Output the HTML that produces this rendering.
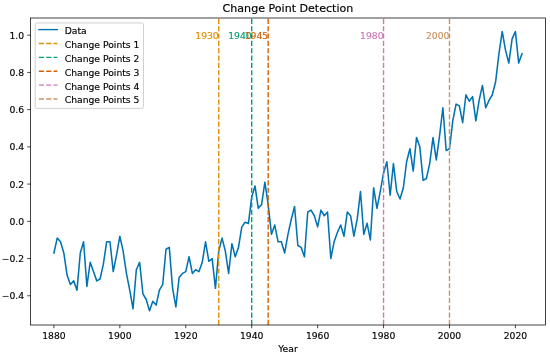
<!DOCTYPE html>
<html><head><meta charset="utf-8"><title>Change Point Detection</title>
<style>html,body{margin:0;padding:0;background:#fff;width:550px;height:357px;overflow:hidden}svg{display:block;filter:blur(0.35px)}text{stroke-width:0.15px}</style>
</head><body>
<svg width="550" height="357" viewBox="0 0 550 357">
<rect width="550" height="357" fill="#fff"/>
<polyline points="53.92,252.96 57.22,238.07 60.51,241.80 63.81,252.96 67.11,275.30 70.40,284.61 73.70,280.88 76.99,290.19 80.29,252.96 83.59,241.80 86.88,286.47 90.18,262.27 93.48,271.58 96.77,280.88 100.07,279.02 103.36,264.13 106.66,241.80 109.96,241.80 113.25,271.58 116.55,254.83 119.85,236.21 123.14,251.10 126.44,273.44 129.73,290.19 133.03,308.81 136.33,269.72 139.62,262.27 142.92,293.91 146.22,299.50 149.51,310.67 152.81,301.36 156.11,305.08 159.40,290.19 162.70,284.61 165.99,249.24 169.29,247.38 172.59,288.33 175.88,306.94 179.18,277.16 182.48,273.44 185.77,271.58 189.07,256.69 192.36,273.44 195.66,269.72 198.96,271.58 202.25,262.27 205.55,241.80 208.85,261.34 212.14,258.55 215.44,288.33 218.74,251.10 222.03,238.07 225.33,251.10 228.62,273.44 231.92,243.66 235.22,256.69 238.51,247.38 241.81,226.90 245.11,222.25 248.40,223.55 251.70,197.12 254.99,185.95 258.29,208.29 261.59,204.57 264.88,182.23 268.18,204.57 271.48,234.35 274.77,225.04 278.07,241.80 281.36,241.80 284.66,252.96 287.96,234.35 291.25,219.46 294.55,206.43 297.85,245.52 301.14,247.38 304.44,256.69 307.74,212.01 311.03,210.15 314.33,215.74 317.62,226.90 320.92,210.15 324.22,215.74 327.51,212.01 330.81,258.55 334.11,241.80 337.40,232.49 340.70,225.04 343.99,236.21 347.29,212.01 350.59,215.74 353.88,236.21 357.18,219.46 360.48,191.54 363.77,234.35 367.07,223.18 370.36,239.93 373.66,187.81 376.96,208.29 380.25,191.54 383.55,172.92 386.85,161.76 390.14,195.26 393.44,163.62 396.74,191.54 400.03,198.98 403.33,187.81 406.62,161.76 409.92,148.73 413.22,171.06 416.51,137.56 419.81,146.86 423.11,180.37 426.40,178.51 429.70,163.62 432.99,137.56 436.29,159.89 439.59,135.70 442.88,107.77 446.18,150.59 449.48,148.73 452.77,120.80 456.07,104.05 459.36,105.91 462.66,122.67 465.96,94.74 469.25,101.26 472.55,96.61 475.85,120.80 479.14,100.33 482.44,85.44 485.74,107.77 489.03,100.33 492.33,94.74 495.62,81.72 498.92,53.79 502.22,31.46 505.51,50.07 508.81,63.10 512.11,38.90 515.40,31.46 518.70,63.10 521.99,53.79" fill="none" stroke="#0173B2" stroke-width="1.55" stroke-linejoin="round" stroke-linecap="square"/>
<line x1="218.74" y1="325.0" x2="218.74" y2="18.0" stroke="#DE8F05" stroke-width="1.385" stroke-dasharray="5.126 2.217"/>
<line x1="251.70" y1="325.0" x2="251.70" y2="18.0" stroke="#029E73" stroke-width="1.385" stroke-dasharray="5.126 2.217"/>
<line x1="268.18" y1="325.0" x2="268.18" y2="18.0" stroke="#D55E00" stroke-width="1.385" stroke-dasharray="5.126 2.217"/>
<line x1="383.55" y1="325.0" x2="383.55" y2="18.0" stroke="#CC78BC" stroke-width="1.385" stroke-dasharray="5.126 2.217"/>
<line x1="449.48" y1="325.0" x2="449.48" y2="18.0" stroke="#CA9161" stroke-width="1.385" stroke-dasharray="5.126 2.217"/>
<text x="218.74" y="38.5" fill="#DE8F05" stroke="#DE8F05" text-anchor="end" style="font-size:9.236px;font-family:'DejaVu Sans','Liberation Sans',sans-serif">1930</text>
<text x="251.70" y="38.5" fill="#029E73" stroke="#029E73" text-anchor="end" style="font-size:9.236px;font-family:'DejaVu Sans','Liberation Sans',sans-serif">1940</text>
<text x="268.18" y="38.5" fill="#D55E00" stroke="#D55E00" text-anchor="end" style="font-size:9.236px;font-family:'DejaVu Sans','Liberation Sans',sans-serif">1945</text>
<text x="383.55" y="38.5" fill="#CC78BC" stroke="#CC78BC" text-anchor="end" style="font-size:9.236px;font-family:'DejaVu Sans','Liberation Sans',sans-serif">1980</text>
<text x="449.48" y="38.5" fill="#CA9161" stroke="#CA9161" text-anchor="end" style="font-size:9.236px;font-family:'DejaVu Sans','Liberation Sans',sans-serif">2000</text>
<rect x="30.52" y="18.0" width="514.88" height="307.0" fill="none" stroke="#000" stroke-width="0.739" stroke-linejoin="miter"/>
<line x1="53.92" y1="325.0" x2="53.92" y2="328.23" stroke="#000" stroke-width="0.739"/>
<text x="53.92" y="338.5" stroke="#000" text-anchor="middle" style="font-size:9.236px;font-family:'DejaVu Sans','Liberation Sans',sans-serif">1880</text>
<line x1="119.85" y1="325.0" x2="119.85" y2="328.23" stroke="#000" stroke-width="0.739"/>
<text x="119.85" y="338.5" stroke="#000" text-anchor="middle" style="font-size:9.236px;font-family:'DejaVu Sans','Liberation Sans',sans-serif">1900</text>
<line x1="185.77" y1="325.0" x2="185.77" y2="328.23" stroke="#000" stroke-width="0.739"/>
<text x="185.77" y="338.5" stroke="#000" text-anchor="middle" style="font-size:9.236px;font-family:'DejaVu Sans','Liberation Sans',sans-serif">1920</text>
<line x1="251.70" y1="325.0" x2="251.70" y2="328.23" stroke="#000" stroke-width="0.739"/>
<text x="251.70" y="338.5" stroke="#000" text-anchor="middle" style="font-size:9.236px;font-family:'DejaVu Sans','Liberation Sans',sans-serif">1940</text>
<line x1="317.62" y1="325.0" x2="317.62" y2="328.23" stroke="#000" stroke-width="0.739"/>
<text x="317.62" y="338.5" stroke="#000" text-anchor="middle" style="font-size:9.236px;font-family:'DejaVu Sans','Liberation Sans',sans-serif">1960</text>
<line x1="383.55" y1="325.0" x2="383.55" y2="328.23" stroke="#000" stroke-width="0.739"/>
<text x="383.55" y="338.5" stroke="#000" text-anchor="middle" style="font-size:9.236px;font-family:'DejaVu Sans','Liberation Sans',sans-serif">1980</text>
<line x1="449.48" y1="325.0" x2="449.48" y2="328.23" stroke="#000" stroke-width="0.739"/>
<text x="449.48" y="338.5" stroke="#000" text-anchor="middle" style="font-size:9.236px;font-family:'DejaVu Sans','Liberation Sans',sans-serif">2000</text>
<line x1="515.40" y1="325.0" x2="515.40" y2="328.23" stroke="#000" stroke-width="0.739"/>
<text x="515.40" y="338.5" stroke="#000" text-anchor="middle" style="font-size:9.236px;font-family:'DejaVu Sans','Liberation Sans',sans-serif">2020</text>
<line x1="30.52" y1="295.78" x2="27.28" y2="295.78" stroke="#000" stroke-width="0.739"/>
<text x="24.05" y="299.23" stroke="#000" text-anchor="end" style="font-size:9.236px;font-family:'DejaVu Sans','Liberation Sans',sans-serif">−0.4</text>
<line x1="30.52" y1="258.55" x2="27.28" y2="258.55" stroke="#000" stroke-width="0.739"/>
<text x="24.05" y="262.00" stroke="#000" text-anchor="end" style="font-size:9.236px;font-family:'DejaVu Sans','Liberation Sans',sans-serif">−0.2</text>
<line x1="30.52" y1="221.32" x2="27.28" y2="221.32" stroke="#000" stroke-width="0.739"/>
<text x="24.05" y="224.77" stroke="#000" text-anchor="end" style="font-size:9.236px;font-family:'DejaVu Sans','Liberation Sans',sans-serif">0.0</text>
<line x1="30.52" y1="184.09" x2="27.28" y2="184.09" stroke="#000" stroke-width="0.739"/>
<text x="24.05" y="187.54" stroke="#000" text-anchor="end" style="font-size:9.236px;font-family:'DejaVu Sans','Liberation Sans',sans-serif">0.2</text>
<line x1="30.52" y1="146.86" x2="27.28" y2="146.86" stroke="#000" stroke-width="0.739"/>
<text x="24.05" y="150.31" stroke="#000" text-anchor="end" style="font-size:9.236px;font-family:'DejaVu Sans','Liberation Sans',sans-serif">0.4</text>
<line x1="30.52" y1="109.64" x2="27.28" y2="109.64" stroke="#000" stroke-width="0.739"/>
<text x="24.05" y="113.09" stroke="#000" text-anchor="end" style="font-size:9.236px;font-family:'DejaVu Sans','Liberation Sans',sans-serif">0.6</text>
<line x1="30.52" y1="72.41" x2="27.28" y2="72.41" stroke="#000" stroke-width="0.739"/>
<text x="24.05" y="75.86" stroke="#000" text-anchor="end" style="font-size:9.236px;font-family:'DejaVu Sans','Liberation Sans',sans-serif">0.8</text>
<line x1="30.52" y1="35.18" x2="27.28" y2="35.18" stroke="#000" stroke-width="0.739"/>
<text x="24.05" y="38.63" stroke="#000" text-anchor="end" style="font-size:9.236px;font-family:'DejaVu Sans','Liberation Sans',sans-serif">1.0</text>
<text x="287.96" y="12.4" stroke="#000" text-anchor="middle" style="font-size:11.083px;font-family:'DejaVu Sans','Liberation Sans',sans-serif">Change Point Detection</text>
<text x="287.96" y="351.5" stroke="#000" text-anchor="middle" style="font-size:9.236px;font-family:'DejaVu Sans','Liberation Sans',sans-serif">Year</text>
<rect x="35.2" y="22.95" width="108.30" height="85.45" rx="1.85" ry="1.85" fill="#fff" fill-opacity="0.8" stroke="#ccc" stroke-width="0.924"/>
<line x1="38.89" y1="29.60" x2="57.37" y2="29.60" stroke="#0173B2" stroke-width="1.385" stroke-linecap="square"/>
<text x="64.76" y="33.90" stroke="#000" style="font-size:9.236px;font-family:'DejaVu Sans','Liberation Sans',sans-serif">Data</text>
<line x1="38.89" y1="43.48" x2="57.37" y2="43.48" stroke="#DE8F05" stroke-width="1.385" stroke-dasharray="5.126 2.217"/>
<text x="64.76" y="47.80" stroke="#000" style="font-size:9.236px;font-family:'DejaVu Sans','Liberation Sans',sans-serif">Change Points 1</text>
<line x1="38.89" y1="57.36" x2="57.37" y2="57.36" stroke="#029E73" stroke-width="1.385" stroke-dasharray="5.126 2.217"/>
<text x="64.76" y="61.70" stroke="#000" style="font-size:9.236px;font-family:'DejaVu Sans','Liberation Sans',sans-serif">Change Points 2</text>
<line x1="38.89" y1="71.24" x2="57.37" y2="71.24" stroke="#D55E00" stroke-width="1.385" stroke-dasharray="5.126 2.217"/>
<text x="64.76" y="75.60" stroke="#000" style="font-size:9.236px;font-family:'DejaVu Sans','Liberation Sans',sans-serif">Change Points 3</text>
<line x1="38.89" y1="85.12" x2="57.37" y2="85.12" stroke="#CC78BC" stroke-width="1.385" stroke-dasharray="5.126 2.217"/>
<text x="64.76" y="89.50" stroke="#000" style="font-size:9.236px;font-family:'DejaVu Sans','Liberation Sans',sans-serif">Change Points 4</text>
<line x1="38.89" y1="99.00" x2="57.37" y2="99.00" stroke="#CA9161" stroke-width="1.385" stroke-dasharray="5.126 2.217"/>
<text x="64.76" y="103.40" stroke="#000" style="font-size:9.236px;font-family:'DejaVu Sans','Liberation Sans',sans-serif">Change Points 5</text>
</svg>
</body></html>
